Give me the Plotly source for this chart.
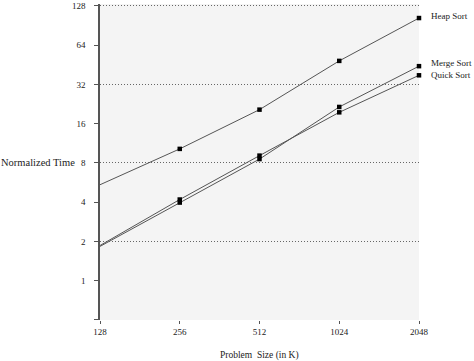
import math
import plotly.graph_objects as go

sizes = [128, 256, 512, 1024, 2048]
heap_sort = [5.44, 10.25, 20.5, 48.5, 103.4]
merge_sort = [1.83, 3.97, 8.56, 21.5, 44.2]
quick_sort = [1.86, 4.19, 9.1, 19.55, 37.6]
series_names = ["Heap Sort", "Merge Sort", "Quick Sort"]
y_ticks = [0.5, 1, 2, 4, 8, 16, 32, 64, 128]
y_ticktext = ["", "1", "2", "4", "8", "16", "32", "64", "128"]
grid_values = [2, 8, 32, 128]
x_ticktext = ["128", "256", "512", "1024", "2048"]

FONT = "Liberation Serif"
LINE = "#555555"

fig = go.Figure()
for name, vals in zip(series_names, [heap_sort, merge_sort, quick_sort]):
    fig.add_trace(go.Scatter(
        x=sizes, y=vals, mode="lines+markers", name=name,
        line=dict(color=LINE, width=1),
        marker=dict(symbol="square", size=4.5, color="black"),
        cliponaxis=False, showlegend=False,
    ))
# invisible trace to host the dotted grid axis
fig.add_trace(go.Scatter(x=[sizes[0]], y=[grid_values[0]], yaxis="y2",
                         mode="markers", marker=dict(opacity=0),
                         hoverinfo="skip", showlegend=False))

yr = [math.log10(y_ticks[0]) - 0.001, math.log10(y_ticks[-1]) + 0.015]
fig.update_layout(
    width=474, height=361,
    margin=dict(l=100, r=55, t=1, b=41),
    paper_bgcolor="white", plot_bgcolor="#f4f4f4",
    font=dict(family=FONT, size=10, color="#222"),
    xaxis=dict(type="log", range=[math.log10(sizes[0]), math.log10(sizes[-1])],
               tickvals=sizes, ticktext=x_ticktext, showgrid=False,
               showline=False, zeroline=False, ticks="outside", ticklen=3,
               tickcolor=LINE, tickfont=dict(size=9, family=FONT),
               ticklabeloverflow="allow"),
    yaxis=dict(type="log", range=yr, tickvals=y_ticks, ticktext=y_ticktext,
               showgrid=False, showline=True, linecolor=LINE, linewidth=1.5,
               ticks="outside", ticklen=4, tickcolor=LINE, zeroline=False,
               ticklabelstandoff=7, tickfont=dict(size=9, family=FONT),
               ticklabeloverflow="allow"),
    yaxis2=dict(type="log", range=yr, overlaying="y", tickvals=grid_values,
                showticklabels=False, ticks="", showgrid=True, griddash="1px,2px",
                gridcolor="#666666", gridwidth=1, showline=False, zeroline=False),
)

label_shift = {"Heap Sort": 2, "Merge Sort": 3, "Quick Sort": 0}
for name, vals in zip(series_names, [heap_sort, merge_sort, quick_sort]):
    fig.add_annotation(xref="paper", x=1, xanchor="left", xshift=10,
                       yref="y", y=math.log10(vals[-1]), yshift=label_shift[name],
                       text=name, showarrow=False,
                       font=dict(family=FONT, size=9, color="#222"))

fig.add_annotation(xref="paper", x=0, xanchor="left", xshift=-101,
                   yref="y", y=math.log10(8), text="Normalized Time",
                   showarrow=False, font=dict(family=FONT, size=10.5, color="#222"))
fig.add_annotation(xref="paper", x=0.5, yref="paper", y=0, yshift=-35,
                   yanchor="middle", text="Problem  Size (in K)",
                   showarrow=False, font=dict(family=FONT, size=9.5, color="#222"))

fig.write_html("out.html", config={"displayModeBar": False},
               post_script="document.body.style.margin='0';document.body.style.overflow='hidden';")
